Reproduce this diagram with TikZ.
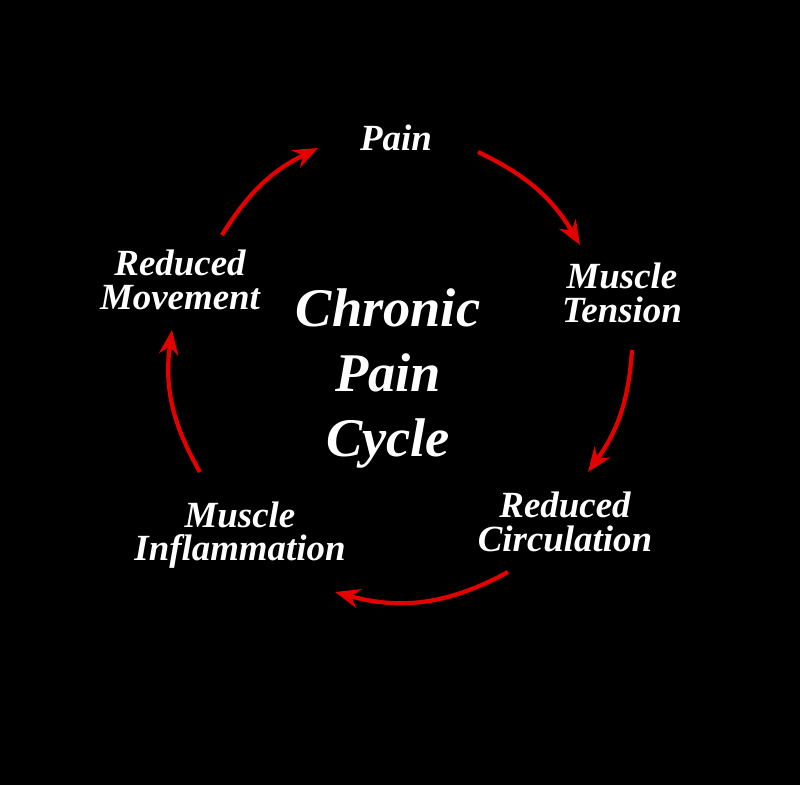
\documentclass[tikz,border=0pt]{standalone}
\usepackage{fontspec}
\setmainfont{Liberation Serif}
\usetikzlibrary{arrows.meta}
\colorlet{cyclered}{red!90!black}
\tikzset{
  stage/.style={text=white,align=center,font=\fontsize{21}{19}\selectfont\bfseries\itshape},
  title/.style={text=white,align=center,font=\fontsize{31}{37}\selectfont\bfseries\itshape},
  cyc/.style={cyclered,line width=2.4pt,-{Stealth[length=14pt,width=11pt]}}
}
\begin{document}
\begin{tikzpicture}[x=0.02cm,y=-0.02cm]
% background
\fill[black] (0,0) rectangle (800,785);
\useasboundingbox (0,0) rectangle (800,785);

% stages
\node[stage] (pain) at (396,138) {Pain};
\node[stage] (tension) at (622,293) {Muscle\\Tension};
\node[stage] (circ) at (565,522) {Reduced\\Circulation};
\node[stage] (infl) at (240,535) {Muscle\\Inflammation};
\node[stage] (move) at (180,280) {Reduced\\Movement};
\node[title] (centre) at (388,378) {Chronic\\Pain\\Cycle};

% arrow ends
\coordinate (a1) at (478,152); \coordinate (b1) at (580,245);
\coordinate (a2) at (632,350); \coordinate (b2) at (588,472);
\coordinate (a3) at (508,572); \coordinate (b3) at (335,592);
\coordinate (a4) at (200,472); \coordinate (b4) at (172,330);
\coordinate (a5) at (222,235); \coordinate (b5) at (318,148);

% cycle arrows
\draw[cyc] (a1) to[bend left=17] (b1);
\draw[cyc] (a2) to[bend left=16] (b2);
\draw[cyc] (a3) to[bend left=22] (b3);
\draw[cyc] (a4) to[bend left=19] (b4);
\draw[cyc] (a5) to[bend left=16] (b5);
\end{tikzpicture}
\end{document}
